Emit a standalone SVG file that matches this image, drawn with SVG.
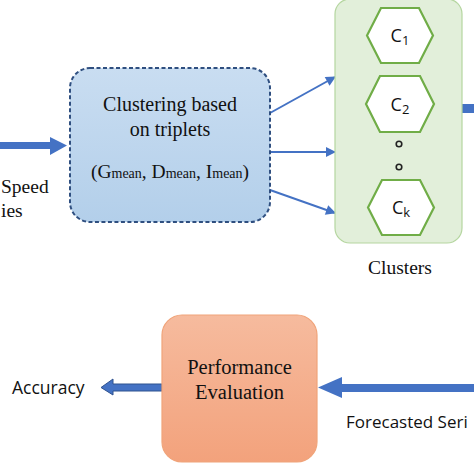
<svg xmlns="http://www.w3.org/2000/svg" width="474" height="474" viewBox="0 0 474 474">
<defs>
<linearGradient id="gBlue" x1="0" y1="0" x2="0" y2="1"><stop offset="0" stop-color="#C9DDF1"/><stop offset="1" stop-color="#B3CFEA"/></linearGradient>
<linearGradient id="gOrange" x1="0" y1="0" x2="0" y2="1"><stop offset="0" stop-color="#F6BB9E"/><stop offset="1" stop-color="#F3A27C"/></linearGradient>
<marker id="ah" viewBox="0 0 10 10" refX="9" refY="5" markerWidth="11" markerHeight="10" orient="auto" markerUnits="userSpaceOnUse"><path d="M0,0 L10,5 L0,10 z" fill="#4472C4"/></marker>
<style>
.serif{font-family:"Liberation Serif","Times New Roman",serif;fill:#111;}
.sans{font-family:"Open Sans","Liberation Sans",sans-serif;fill:#111;}
.hex{fill:#fff;stroke:#70AD47;stroke-width:2.2;}
.thin{stroke:#4472C4;stroke-width:2;fill:none;marker-end:url(#ah);}
.block{fill:#4472C4;}
</style>
</defs>
<rect width="474" height="474" fill="#fff"/>

<g id="connectors">
  <path class="block" d="M0,142 L50,142 L50,137 L67,145.5 L50,155 L50,149 L0,149 z"/>
  <line class="thin" x1="270" y1="113" x2="335" y2="77"/>
  <line class="thin" x1="270" y1="152" x2="335" y2="152"/>
  <line class="thin" x1="270" y1="190" x2="335" y2="213"/>
  <rect class="block" x="462" y="104" width="12" height="9"/>
  <path class="block" d="M474,384 L342,384 L342,377 L318,387.5 L342,398 L342,392 L474,392 z"/>
  <path class="block" d="M162,384 L113,384 L113,379 L101,387.5 L113,395 L113,391 L162,391 z" stroke="#2F528F" stroke-width="1"/>
</g>

<g id="input-label">
  <text class="serif" x="1" y="193" font-size="19.5">Speed</text>
  <text class="serif" x="1" y="217" font-size="19.5">ies</text>
</g>

<g id="clustering">
  <rect x="70" y="68" width="200" height="154" rx="20" fill="url(#gBlue)" stroke="#2F4F80" stroke-width="2" stroke-dasharray="4,2.5"/>
  <text class="serif" x="170" y="111" font-size="20" text-anchor="middle">Clustering based</text>
  <text class="serif" x="170" y="136" font-size="20" text-anchor="middle">on triplets</text>
  <text class="serif" x="170" y="178" font-size="19.5" text-anchor="middle">(G<tspan font-size="14">mean</tspan>, D<tspan font-size="14">mean</tspan>, I<tspan font-size="14">mean</tspan>)</text>
</g>

<g id="clusters">
  <rect x="335" y="-1" width="127" height="244" rx="15" fill="#E2EFDA" stroke="#B5D6A0" stroke-width="1.2"/>
  <g id="c1">
    <polygon class="hex" points="367,35.5 381,8 419,8 433,35.5 419,63 381,63"/>
    <text class="sans" x="400" y="42" font-size="18" text-anchor="middle">C<tspan font-size="13" dy="3">1</tspan></text>
  </g>
  <g id="c2">
    <polygon class="hex" points="366,104 380,76 420,76 434,104 420,132 380,132"/>
    <text class="sans" x="400" y="111" font-size="18" text-anchor="middle">C<tspan font-size="13" dy="3">2</tspan></text>
  </g>
  <circle cx="399" cy="144" r="2.8" fill="none" stroke="#222" stroke-width="1.6"/>
  <circle cx="399" cy="167" r="2.8" fill="none" stroke="#222" stroke-width="1.6"/>
  <g id="ck">
    <polygon class="hex" points="368,207.5 382,180 420,180 434,207.5 420,235 382,235"/>
    <text class="sans" x="401" y="214" font-size="18" text-anchor="middle">C<tspan font-size="13" dy="3">k</tspan></text>
  </g>
  <text class="serif" x="400" y="274" font-size="19.5" text-anchor="middle">Clusters</text>
</g>

<g id="performance">
  <rect x="162" y="315" width="155" height="147" rx="20" fill="url(#gOrange)" stroke="#F0A47A" stroke-width="1.2"/>
  <text class="serif" x="239.5" y="374" font-size="20.5" text-anchor="middle">Performance</text>
  <text class="serif" x="239.5" y="399" font-size="20.5" text-anchor="middle">Evaluation</text>
</g>

<g id="accuracy">
  <text class="sans" x="12" y="394" font-size="17.5">Accuracy</text>
</g>

<g id="forecasted">
  <text class="sans" x="346" y="428" font-size="17">Forecasted Seri</text>
</g>
</svg>
